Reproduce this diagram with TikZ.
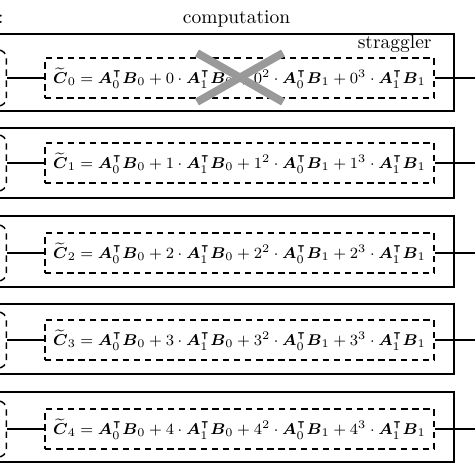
\documentclass[tikz,border=0pt]{standalone}
\usepackage{amsmath,amssymb}
\newcommand{\mA}{\boldsymbol{A}}
\newcommand{\mB}{\boldsymbol{B}}
\newcommand{\mC}{\boldsymbol{C}}
\newcommand{\eqrow}[1]{$\widetilde{\mC}_{#1} = \mA_0^{\intercal}\mB_0 + #1\cdot\mA_1^{\intercal}\mB_0 + #1^2\cdot\mA_0^{\intercal}\mB_1 + #1^3\cdot\mA_1^{\intercal}\mB_1$}
\begin{document}
\begin{tikzpicture}[x=0.513pt,y=-0.513pt,
  outerbox/.style={draw, line width=0.8pt},
  eqbox/.style={draw, dash pattern=on 3.3pt off 2.4pt, line width=0.75pt, minimum width=199.6pt, minimum height=20.5pt, inner sep=0pt, font=\fontsize{8.2pt}{10pt}\selectfont},
  encbox/.style={draw, dash pattern=on 3.3pt off 2.4pt, rounded corners=4pt, line width=0.75pt, minimum width=31pt, minimum height=28.7pt, anchor=east},
  link/.style={line width=0.55pt},
  cross/.style={line width=4pt, black!40},
  label/.style={inner sep=0pt}]
\useasboundingbox (0,0) rectangle (474,474);
% headers
\node[label, anchor=base] (hcomp) at (236.5,24) {computation};
\node[label, anchor=base east] (hleft) at (4,24) {t:};
% outer boxes
\draw[outerbox] (-80,34) rectangle (454,111);
\draw[outerbox] (-80,128) rectangle (454,198);
\draw[outerbox] (-80,216) rectangle (454,287);
\draw[outerbox] (-80,304) rectangle (454,374);
\draw[outerbox] (-80,392) rectangle (454,462);
\node[label, anchor=base east] (strag) at (432,49) {straggler};
% rows
\foreach \k/\c in {0/78,1/163,2/253,3/340,4/429}{
  \node[encbox] (enc\k) at (7,\c) {};
  \node[eqbox] (eq\k) at (239.5,\c) {\eqrow{\k}};
  \coordinate (out\k) at (490,\c);
  \draw[link] (enc\k.east) -- (eq\k.west);
  \draw[link] (eq\k.east) -- (out\k);
}
% straggler cross
\draw[cross] (197,53) -- (283,102);
\draw[cross] (197,102) -- (283,53);
\end{tikzpicture}
\end{document}
